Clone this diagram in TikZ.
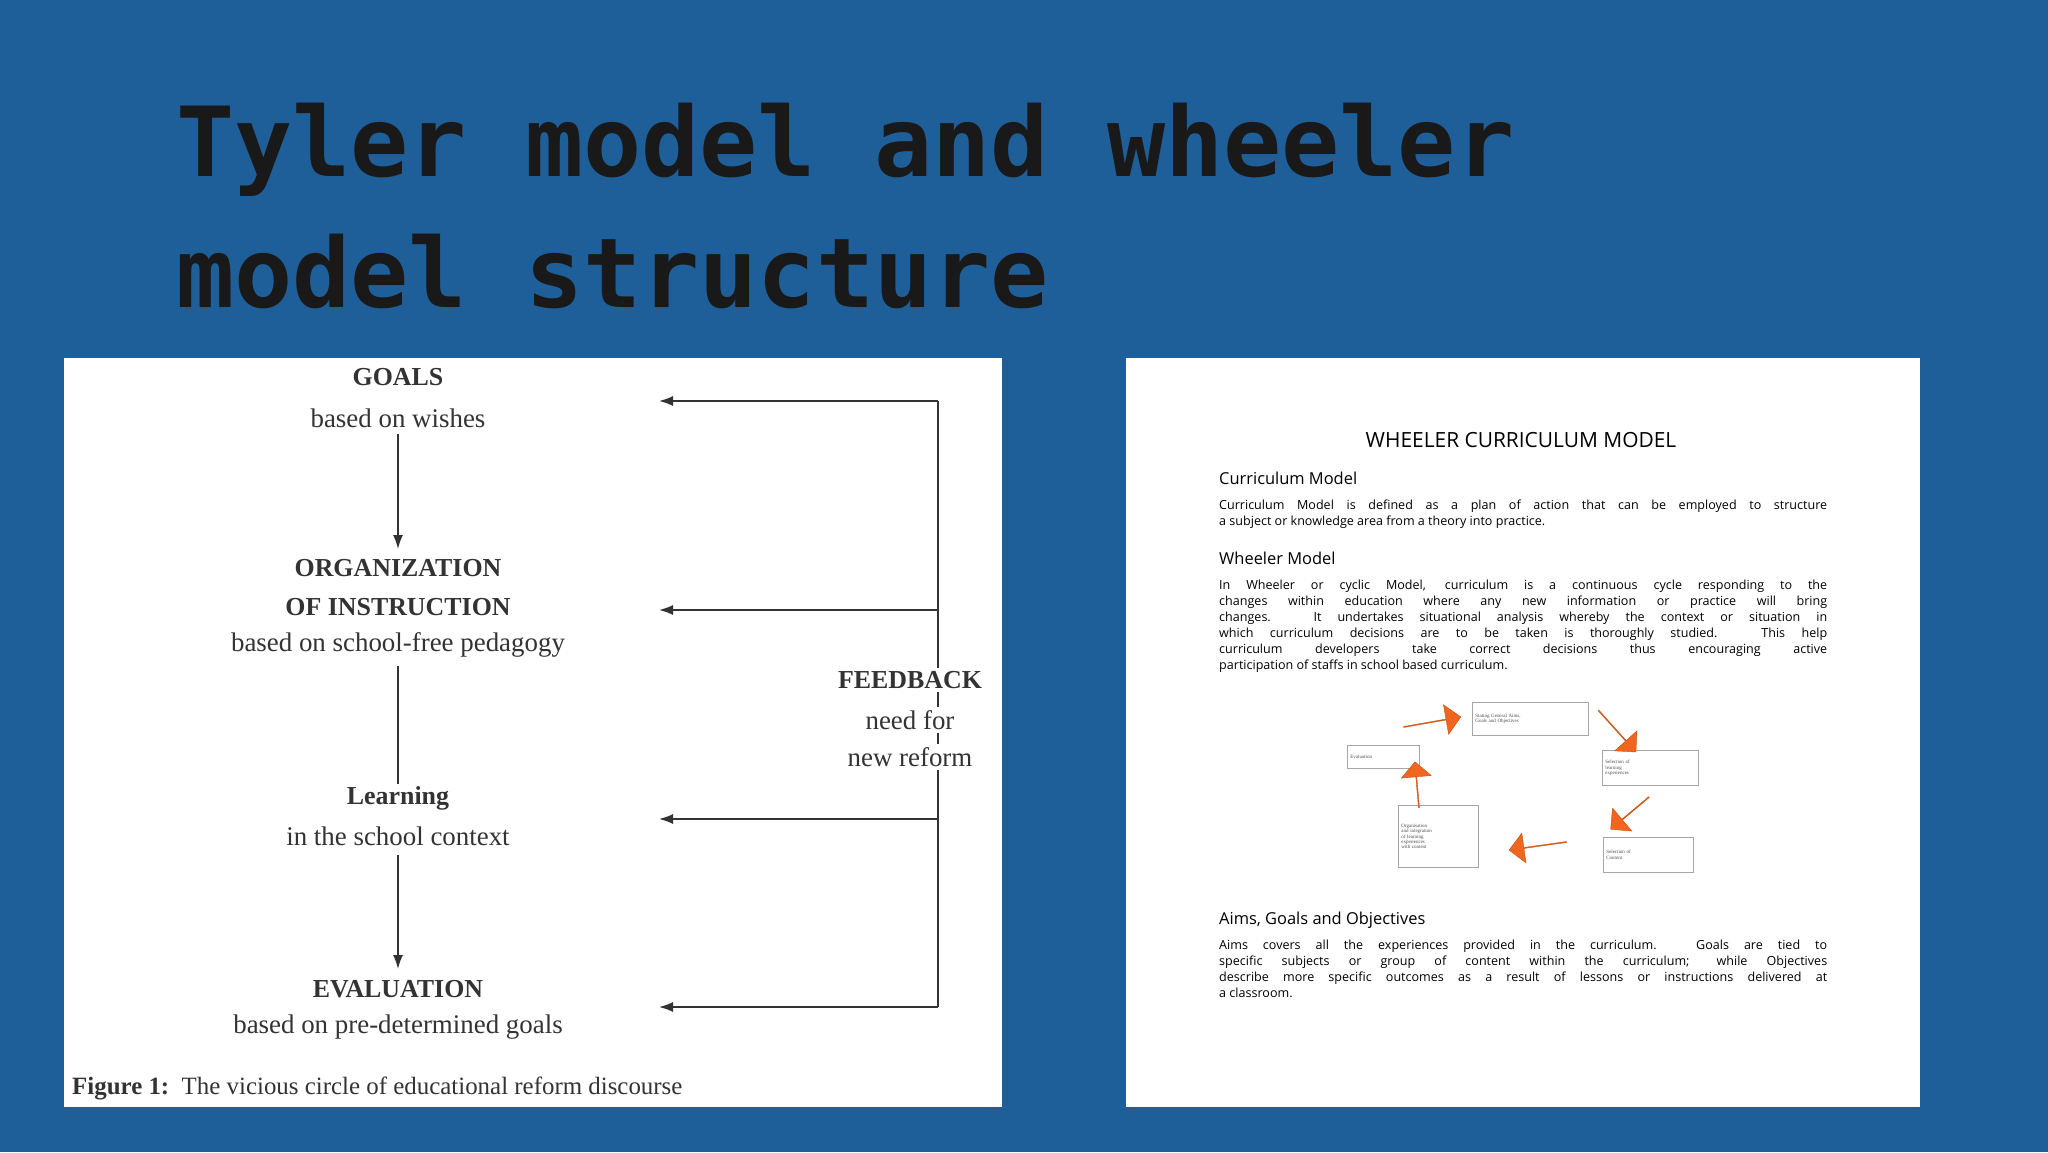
\documentclass[tikz,border=0pt]{standalone}
\usepackage{fontspec}
\setmainfont{Liberation Serif}
\newfontfamily\monob{DejaVu Sans Mono}
\newfontfamily\osans{Open Sans}
\usetikzlibrary{shapes.arrows,arrows.meta}
\definecolor{bgblue}{HTML}{1F5F99}
\definecolor{orng}{HTML}{F0661E}
\definecolor{txt}{HTML}{333333}
\begin{document}
\begin{tikzpicture}[x=1bp,y=-1bp,
  lt/.style={font=\fontsize{27}{30}\selectfont, text=txt, inner sep=0},
  ltb/.style={lt, font=\fontsize{26}{30}\selectfont\bfseries},
  arr/.style={-{Latex[length=14bp,width=10bp]}, line width=1.6bp, draw=txt},
  ln/.style={line width=1.6bp, draw=txt},
  para/.style={anchor=north west, text width=608bp, align=justify, inner sep=0, font=\osans\fontsize{12.6}{16}\selectfont, text=black},
  head/.style={anchor=base west, inner sep=0, font=\osans\fontsize{16.5}{18}\selectfont},
  cbox/.style={draw=gray!70, line width=0.8bp, fill=white, anchor=north west, inner sep=1.5bp, font=\fontsize{5}{5.5}\selectfont, align=left, text=gray!60!black},
  oarr/.style={single arrow, fill=orng, draw=orng!80!black, line width=0.4bp, minimum height=58bp, minimum width=30bp, single arrow head extend=6bp, inner sep=0}
]
\fill[bgblue] (0,0) rectangle (2048,1152);
\useasboundingbox (0,0) rectangle (2048,1152);
% title
\node[anchor=base west, inner sep=0, font=\monob\bfseries\fontsize{97}{120}\selectfont, text=black!90] (t1) at (176,176) {Tyler model and wheeler};
\node[anchor=base west, inner sep=0, font=\monob\bfseries\fontsize{97}{120}\selectfont, text=black!90] (t2) at (176,307) {model structure};
% left panel
\fill[white] (64,358) rectangle (1002,1107);
\node[ltb] (g1) at (398,377) {GOALS};
\node[lt] (g2) at (398,418) {based on wishes};
\node[ltb] (o1) at (398,568) {ORGANIZATION};
\node[ltb] (o2) at (398,607) {OF INSTRUCTION};
\node[lt] (o3) at (398,645) {based on school-free pedagogy};
\node[ltb] (l1) at (398,798) {Learning};
\node[lt] (l2) at (398,836) {in the school context};
\node[ltb] (e1) at (398,989) {EVALUATION};
\node[lt] (e2) at (398,1027) {based on pre-determined goals};
\draw[arr] (g2.south) ++(0,6) coordinate (a1) -- (398,549) coordinate (a2);
\draw[ln] (398,666) coordinate (b1) -- (398,784) coordinate (b2);
\draw[arr] (398,855) coordinate (c1) -- (398,969) coordinate (c2);
\coordinate (f1) at (938,401);
\coordinate (f2) at (938,610);
\coordinate (f3) at (938,819);
\coordinate (f4) at (938,1007);
\coordinate (h1) at (659,401);
\coordinate (h2) at (659,610);
\coordinate (h3) at (659,819);
\coordinate (h4) at (659,1007);
\draw[ln] (f1) -- (f4);
\draw[arr] (f1) -- (h1);
\draw[arr] (f2) -- (h2);
\draw[arr] (f3) -- (h3);
\draw[arr] (f4) -- (h4);
\node[ltb, fill=white, inner sep=3bp] (fb1) at (910,680) {FEEDBACK};
\node[lt, fill=white, inner sep=3bp] (fb2) at (910,720) {need for};
\node[lt, fill=white, inner sep=3bp] (fb3) at (910,757) {new reform};
\node[anchor=base west, inner sep=0, text=txt, font=\fontsize{25}{28}\selectfont] (cap) at (72,1094) {\textbf{Figure 1:}\ \ The vicious circle of educational reform discourse};
% right panel
\fill[white] (1126,358) rectangle (1920,1107);
\node[anchor=base, inner sep=0, font=\osans\fontsize{21}{24}\selectfont] (wt) at (1521,447) {WHEELER CURRICULUM MODEL};
\node[head] (h1t) at (1219,484) {Curriculum Model};
\node[para] (p1) at (1219,500) {Curriculum Model is defined as a plan of action that can be employed to structure\linebreak a subject or knowledge area from a theory into practice.};
\node[head] (h2t) at (1219,564) {Wheeler Model};
\node[para] (p2) at (1219,580) {In Wheeler or cyclic Model, curriculum is a continuous cycle responding to the\linebreak changes within education where any new information or practice will bring\linebreak changes. It undertakes situational analysis whereby the context or situation in\linebreak which curriculum decisions are to be taken is thoroughly studied. This help\linebreak curriculum developers take correct decisions thus encouraging active\linebreak participation of staffs in school based curriculum.};
\node[head] (h3t) at (1219,924) {Aims, Goals and Objectives};
\node[para] (p3) at (1219,940) {Aims covers all the experiences provided in the curriculum. Goals are tied to\linebreak specific subjects or group of content within the curriculum; while Objectives\linebreak describe more specific outcomes as a result of lessons or instructions delivered at\linebreak a classroom.};
% cycle
\node[cbox, minimum width=116bp, minimum height=33bp, text width=110bp] (s1) at (1472,702) {Stating General Aims,\\Goals and Objectives};
\node[cbox, minimum width=72bp, minimum height=23bp, text width=66bp] (s5) at (1347,745) {Evaluation};
\node[cbox, minimum width=96bp, minimum height=35bp, text width=90bp] (s2) at (1602,750) {Selection of\\learning\\experiences};
\node[cbox, minimum width=80bp, minimum height=62bp, text width=74bp] (s4) at (1398,805) {Organisation\\and integration\\of learning\\experiences\\with content};
\node[cbox, minimum width=90bp, minimum height=35bp, text width=84bp] (s3) at (1603,837) {Selection of\\Content};
\node[oarr, minimum height=58bp, rotate=10] (o1a) at (1432,722) {};
\node[oarr, minimum height=56bp, rotate=-48] (o2a) at (1617,731) {};
\node[oarr, minimum height=50bp, rotate=-140] (o3a) at (1630,813) {};
\node[oarr, minimum height=58bp, rotate=188] (o4a) at (1538,846) {};
\node[oarr, minimum height=46bp, rotate=95] (o5a) at (1417,785) {};
\end{tikzpicture}
\end{document}
